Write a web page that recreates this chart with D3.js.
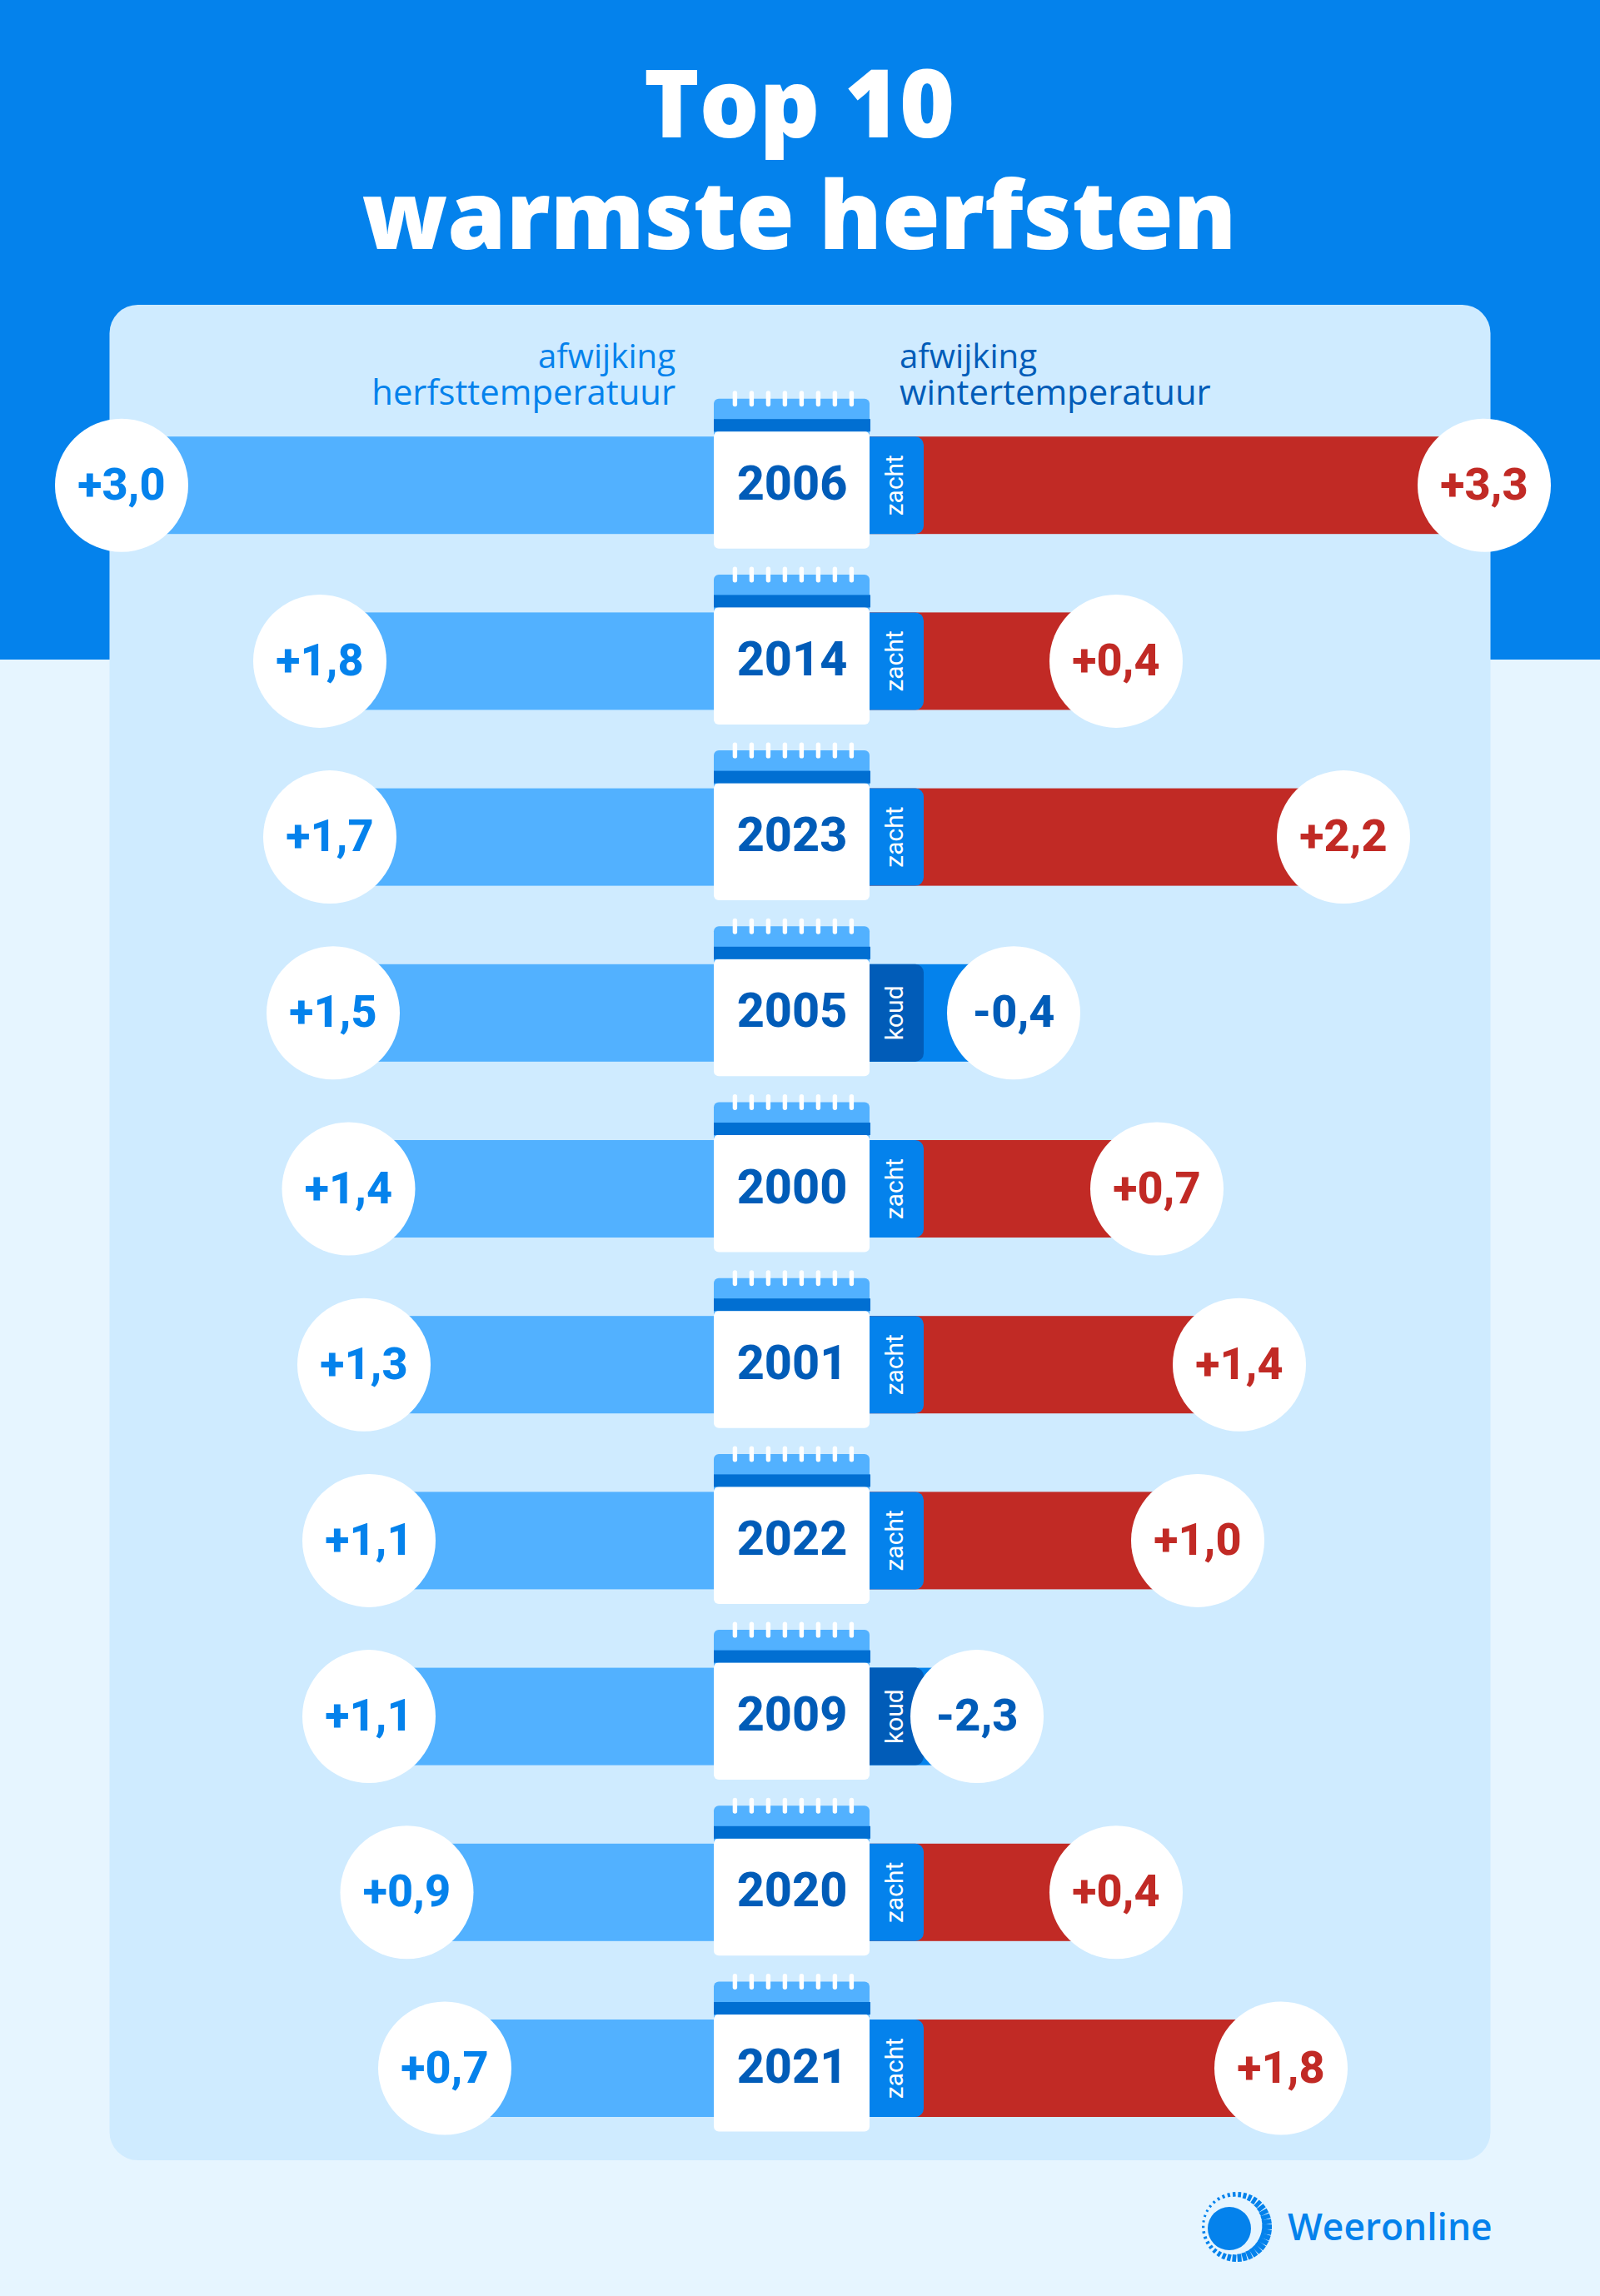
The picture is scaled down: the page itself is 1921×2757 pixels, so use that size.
<!DOCTYPE html>
<html lang="nl">
<head>
<meta charset="utf-8">
<title>Top 10 warmste herfsten</title>
<script src="https://cdn.jsdelivr.net/npm/d3@7"></script>
<style>
  html, body { margin: 0; padding: 0; background: #e6f5ff; }
  svg { display: block; }
</style>
</head>
<body>
<script>
// Warmest autumns and the deviation of the winter that followed (degrees C)
const years = [2006, 2014, 2023, 2005, 2000, 2001, 2022, 2009, 2020, 2021];
const autumnDeviation = [3.0, 1.8, 1.7, 1.5, 1.4, 1.3, 1.1, 1.1, 0.9, 0.7];
const winterDeviation = [3.3, 0.4, 2.2, -0.4, 0.7, 1.4, 1.0, -2.3, 0.4, 1.8];
const titleLines = ["Top 10", "warmste herfsten"];
const leftHeading = ["afwijking", "herfsttemperatuur"];
const rightHeading = ["afwijking", "wintertemperatuur"];

const WIDTH = 1921, HEIGHT = 2757;
const C = {
  blue: "#0482ec", navy: "#015cb8", band: "#016fd2", sky: "#52b1ff",
  panel: "#cfebff", page: "#e6f5ff", red: "#c12a25", white: "#ffffff"
};
const TEXT = "'Open Sans', sans-serif";
const NUM = "Roboto, sans-serif";

const svg = d3.select("body").append("svg")
  .attr("width", WIDTH).attr("height", HEIGHT)
  .attr("viewBox", [0, 0, WIDTH, HEIGHT]);

// Scales: rows, autumn bars growing left, winter bars growing right
const calLeft = 857, calRight = 1044, tabRight = 1109;
const rowY = d3.scalePoint().domain(years).range([582.7, 2483.5]);
const autumnX = d3.scaleLinear().domain([0.7, 1.1, 1.3, 1.5, 1.7, 1.8, 3.0]).range([534, 443, 437, 400, 396, 384, 146]);
const winterX = d3.scaleLinear().domain([0.4, 1.0, 1.8, 2.2, 3.3]).range([1340, 1438, 1538, 1613, 1782]);
const coldX = d3.scaleLinear().domain([-2.3, -0.4]).range([1173, 1217]);
const winterPos = v => (v < 0 ? coldX(v) : winterX(v));
const fmt = v => (v > 0 ? "+" : "-") + d3.format(".1f")(Math.abs(v)).replace(".", ",");

// Backgrounds
svg.append("rect").attr("width", WIDTH).attr("height", HEIGHT).attr("fill", C.page);
svg.append("rect").attr("width", WIDTH).attr("height", 792).attr("fill", C.blue);
svg.append("rect").attr("x", 131.5).attr("y", 366).attr("width", 1658).attr("height", 2228)
  .attr("rx", 34).attr("fill", C.panel);

// Title
svg.append("g").selectAll("text").data(titleLines).join("text")
  .attr("x", 959.5).attr("y", (d, i) => 165 + i * 133.7)
  .attr("text-anchor", "middle").attr("fill", C.white)
  .attr("font-family", TEXT).attr("font-weight", 800).attr("font-size", 113)
  .text(d => d);

// Column headings
const headingSizes = [40.2, 41.8];
const heading = (lines, x, anchor, colour) => svg.append("g").selectAll("text").data(lines).join("text")
  .attr("x", x).attr("y", (d, i) => 442 + i * 44)
  .attr("text-anchor", anchor).attr("fill", colour)
  .attr("font-family", TEXT).attr("font-weight", 500).attr("font-size", (d, i) => headingSizes[i])
  .text(d => d);
heading(leftHeading, 811, "end", C.blue);
heading(rightHeading, 1080, "start", C.navy);

const rows = years.map((year, i) => ({ year, autumn: autumnDeviation[i], winter: winterDeviation[i] }));
const BAR_H = 117, R = 80;

const row = svg.append("g").selectAll("g").data(rows).join("g")
  .attr("transform", d => `translate(0,${rowY(d.year)})`);

// Bars
row.append("rect")
  .attr("x", d => autumnX(d.autumn)).attr("y", -BAR_H / 2)
  .attr("width", d => calLeft - autumnX(d.autumn)).attr("height", BAR_H)
  .attr("fill", C.sky);
row.append("rect")
  .attr("x", calRight).attr("y", -BAR_H / 2)
  .attr("width", d => winterPos(d.winter) - calRight).attr("height", BAR_H)
  .attr("fill", d => (d.winter < 0 ? C.blue : C.red));

// Mild / cold tab with rounded right corners
const tabPath = () => {
  const p = d3.path(), t = -BAR_H / 2, b = BAR_H / 2, r = 10;
  p.moveTo(calRight, t);
  p.lineTo(tabRight - r, t);
  p.arcTo(tabRight, t, tabRight, t + r, r);
  p.lineTo(tabRight, b - r);
  p.arcTo(tabRight, b, tabRight - r, b, r);
  p.lineTo(calRight, b);
  p.closePath();
  return p.toString();
};
row.append("path").attr("d", tabPath).attr("fill", d => (d.winter < 0 ? C.navy : C.blue));
row.append("text")
  .attr("transform", "translate(1084,0) rotate(-90)")
  .attr("text-anchor", "middle").attr("fill", C.white)
  .attr("font-family", NUM).attr("font-weight", 400).attr("font-size", 30)
  .text(d => (d.winter < 0 ? "koud" : "zacht"));

// Calendar sheet
const cal = row.append("g");
cal.append("rect").attr("x", calLeft).attr("y", -104).attr("width", calRight - calLeft).attr("height", 60)
  .attr("rx", 6).attr("fill", C.sky);
cal.append("rect").attr("x", calLeft).attr("y", -65).attr("width", calRight - calLeft).attr("height", 141)
  .attr("rx", 6).attr("fill", C.white);
cal.append("rect").attr("x", calLeft).attr("y", -79.5).attr("width", calRight - calLeft + 1).attr("height", 15)
  .attr("fill", C.band);
cal.selectAll("rect.ring").data(d3.range(8)).join("rect")
  .attr("class", "ring")
  .attr("x", i => 879.7 + i * 20).attr("y", -113.5).attr("width", 5.4).attr("height", 19)
  .attr("rx", 2.7).attr("fill", C.white);
row.append("text")
  .attr("x", 951).attr("y", 17)
  .attr("text-anchor", "middle").attr("fill", C.navy)
  .attr("font-family", NUM).attr("font-weight", 800).attr("font-size", 57.5)
  .text(d => d.year);

// Value discs
row.append("circle").attr("cx", d => autumnX(d.autumn)).attr("r", R).attr("fill", C.white);
row.append("text")
  .attr("x", d => autumnX(d.autumn)).attr("y", 17)
  .attr("text-anchor", "middle").attr("fill", C.blue)
  .attr("font-family", NUM).attr("font-weight", 800).attr("font-size", 54)
  .text(d => fmt(d.autumn));
row.append("circle").attr("cx", d => winterPos(d.winter)).attr("r", R).attr("fill", C.white);
row.append("text")
  .attr("x", d => winterPos(d.winter)).attr("y", 17)
  .attr("text-anchor", "middle").attr("fill", d => (d.winter < 0 ? C.navy : C.red))
  .attr("font-family", NUM).attr("font-weight", 800).attr("font-size", 54)
  .text(d => fmt(d.winter));

// Brand mark: sun disc with rays that swell toward the lower right
const logo = svg.append("g");
logo.append("circle").attr("cx", 1476).attr("cy", 2676).attr("r", 26).attr("fill", C.blue);
const RAY_COUNT = 38, heavyAngle = 0.35;
logo.append("g").attr("transform", "translate(1485,2674)")
  .selectAll("path").data(d3.range(RAY_COUNT)).join("path")
  .attr("d", i => {
    const a = (i / RAY_COUNT) * 2 * Math.PI;
    const weight = (1 + Math.cos(a - heavyAngle)) / 2;
    const length = 3 + 9 * weight, width = 2.4 + 3.6 * weight;
    const c = Math.cos(a), s = Math.sin(a), ro = 42, ri = ro - length;
    const w = width / 2;
    return d3.line()([
      [c * ri - s * w, s * ri + c * w], [c * ro - s * w, s * ro + c * w],
      [c * ro + s * w, s * ro - c * w], [c * ri + s * w, s * ri - c * w]
    ]) + "Z";
  })
  .attr("fill", C.blue);
svg.append("text")
  .attr("x", 1546).attr("y", 2690).attr("fill", C.blue)
  .attr("font-family", TEXT).attr("font-weight", 600).attr("font-size", 44.3)
  .text("Weeronline");
</script>
</body>
</html>
